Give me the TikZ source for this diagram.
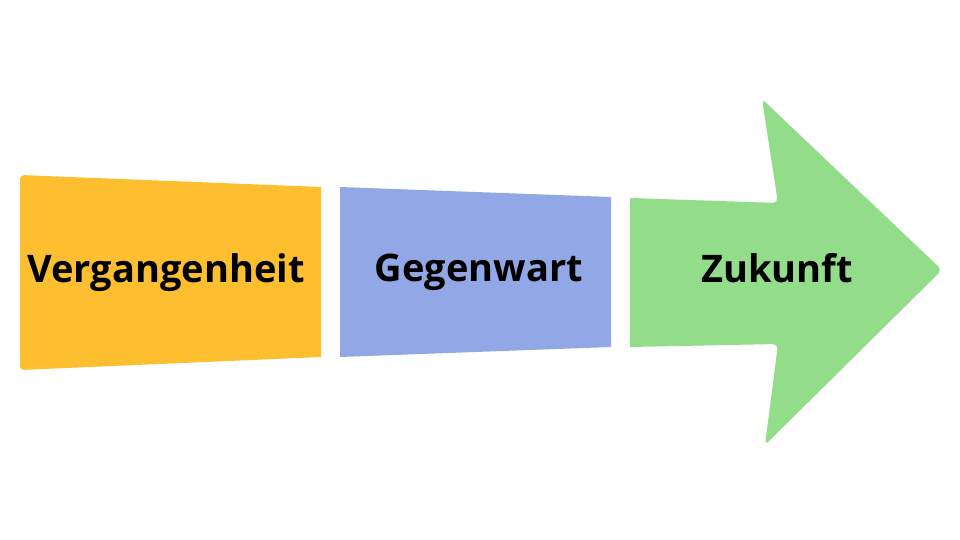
\documentclass[tikz,border=0pt]{standalone}
\usepackage{fontspec}
\setmainfont{Open Sans}
\definecolor{pastC}{HTML}{FDBF2F}
\definecolor{presC}{HTML}{92A8E6}
\definecolor{futC}{HTML}{92DC8A}
\begin{document}
\begin{tikzpicture}[x=1pt,y=-1pt,
  lbl/.style={font=\fontsize{38}{42}\selectfont\bfseries, text=black, inner sep=0pt, anchor=base}]
\useasboundingbox (0,0) rectangle (960,540);
\fill[white] (0,0) rectangle (960,540);
% past
\fill[pastC] (20,180) [rounded corners=4pt] -- (20,175) [sharp corners] -- (321,187) -- (321,357) [rounded corners=4pt] -- (20,370) [sharp corners] -- cycle;
% present
\fill[presC] (340,187) -- (611,197) -- (611,347) -- (340,357) -- cycle;
% future arrow
\fill[futC] (630,198) [rounded corners=5pt] -- (778,203) -- (762,99) -- (942,270) -- (765,445) -- (778,344) [sharp corners] -- (630,347) -- cycle;
\node[lbl] (past) at (166,282) {Vergangenheit};
\node[lbl] (pres) at (479,281) {Gegenwart};
\node[lbl] (fut) at (777,282) {Zukunft};
\end{tikzpicture}
\end{document}
